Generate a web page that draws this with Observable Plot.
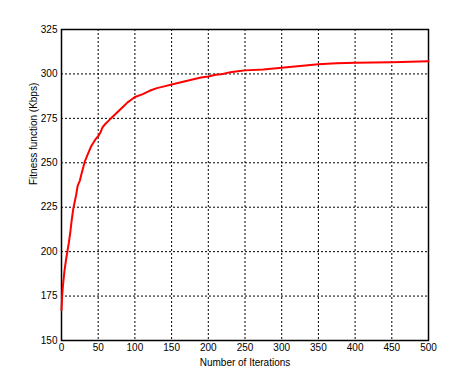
<!DOCTYPE html>
<html><head><meta charset="utf-8">
<script src="https://cdn.jsdelivr.net/npm/d3@7"></script>
<script src="https://cdn.jsdelivr.net/npm/@observablehq/plot@0.6"></script>
<style>body{margin:0;background:#fff;font-family:"Liberation Sans",Arial,sans-serif}</style>
</head><body><div id="chart"></div>
<script>
const iterations = [0,1,2,4,6,8,10,12,14,16,18,20,22,25,28,30,32,35,38,40,43,46,50,53,56,60,65,70,75,80,85,90,95,100,110,120,130,140,150,160,170,180,190,200,210,220,230,240,250,275,300,325,350,375,400,450,500];
const fitness = [167,176,181,189,195,200,205,211,218,224,228,232,237,240,245,248,251,254,257,259,261,263,265,267,270,272,274,276,278,280,282,284,285.5,287,288.5,290.5,292,293,294,295,296,297,298,298.5,299.5,300,301,301.5,302,302.5,303.5,304.5,305.5,306,306.3,306.6,307.2];
const xTicks = [0,50,100,150,200,250,300,350,400,450,500];
const yTicks = [150,175,200,225,250,275,300,325];
const xLabel = "Number of Iterations";
const yLabel = "Fitness function (Kbps)";

const data = iterations.map((x,i)=>({x, y: fitness[i]}));
const chart = Plot.plot({
  width: 474, height: 383,
  marginLeft: 61, marginRight: 46, marginTop: 29, marginBottom: 43,
  style: {fontFamily: '"Liberation Sans", Arial, sans-serif', fontSize: "10px", color: "#000", background: "#fff"},
  x: {domain: [0,500], ticks: xTicks},
  y: {domain: [150,325], ticks: yTicks},
  marks: [
    Plot.gridX(xTicks.slice(1,-1), {stroke: "#000", strokeOpacity: 1, strokeDasharray: "2,2", strokeWidth: 1}),
    Plot.gridY(yTicks.slice(1,-1), {stroke: "#000", strokeOpacity: 1, strokeDasharray: "2,2", strokeWidth: 1}),
    Plot.frame({stroke: "#000", strokeWidth: 1.5}),
    Plot.axisX(xTicks, {tickSize: 0, tickPadding: 3, label: null, fontSize: 10}),
    Plot.axisY(yTicks, {tickSize: 0, tickPadding: 4, label: null, fontSize: 10}),
    Plot.text([xLabel], {frameAnchor: "bottom", dy: 25, fontSize: 10}),
    Plot.text([yLabel], {frameAnchor: "left", dx: -28, rotate: -90, fontSize: 10}),
    Plot.line(data, {x: "x", y: "y", stroke: "#ff0000", strokeWidth: 2, curve: "linear"})
  ]
});
document.getElementById("chart").append(chart);
</script></body></html>
